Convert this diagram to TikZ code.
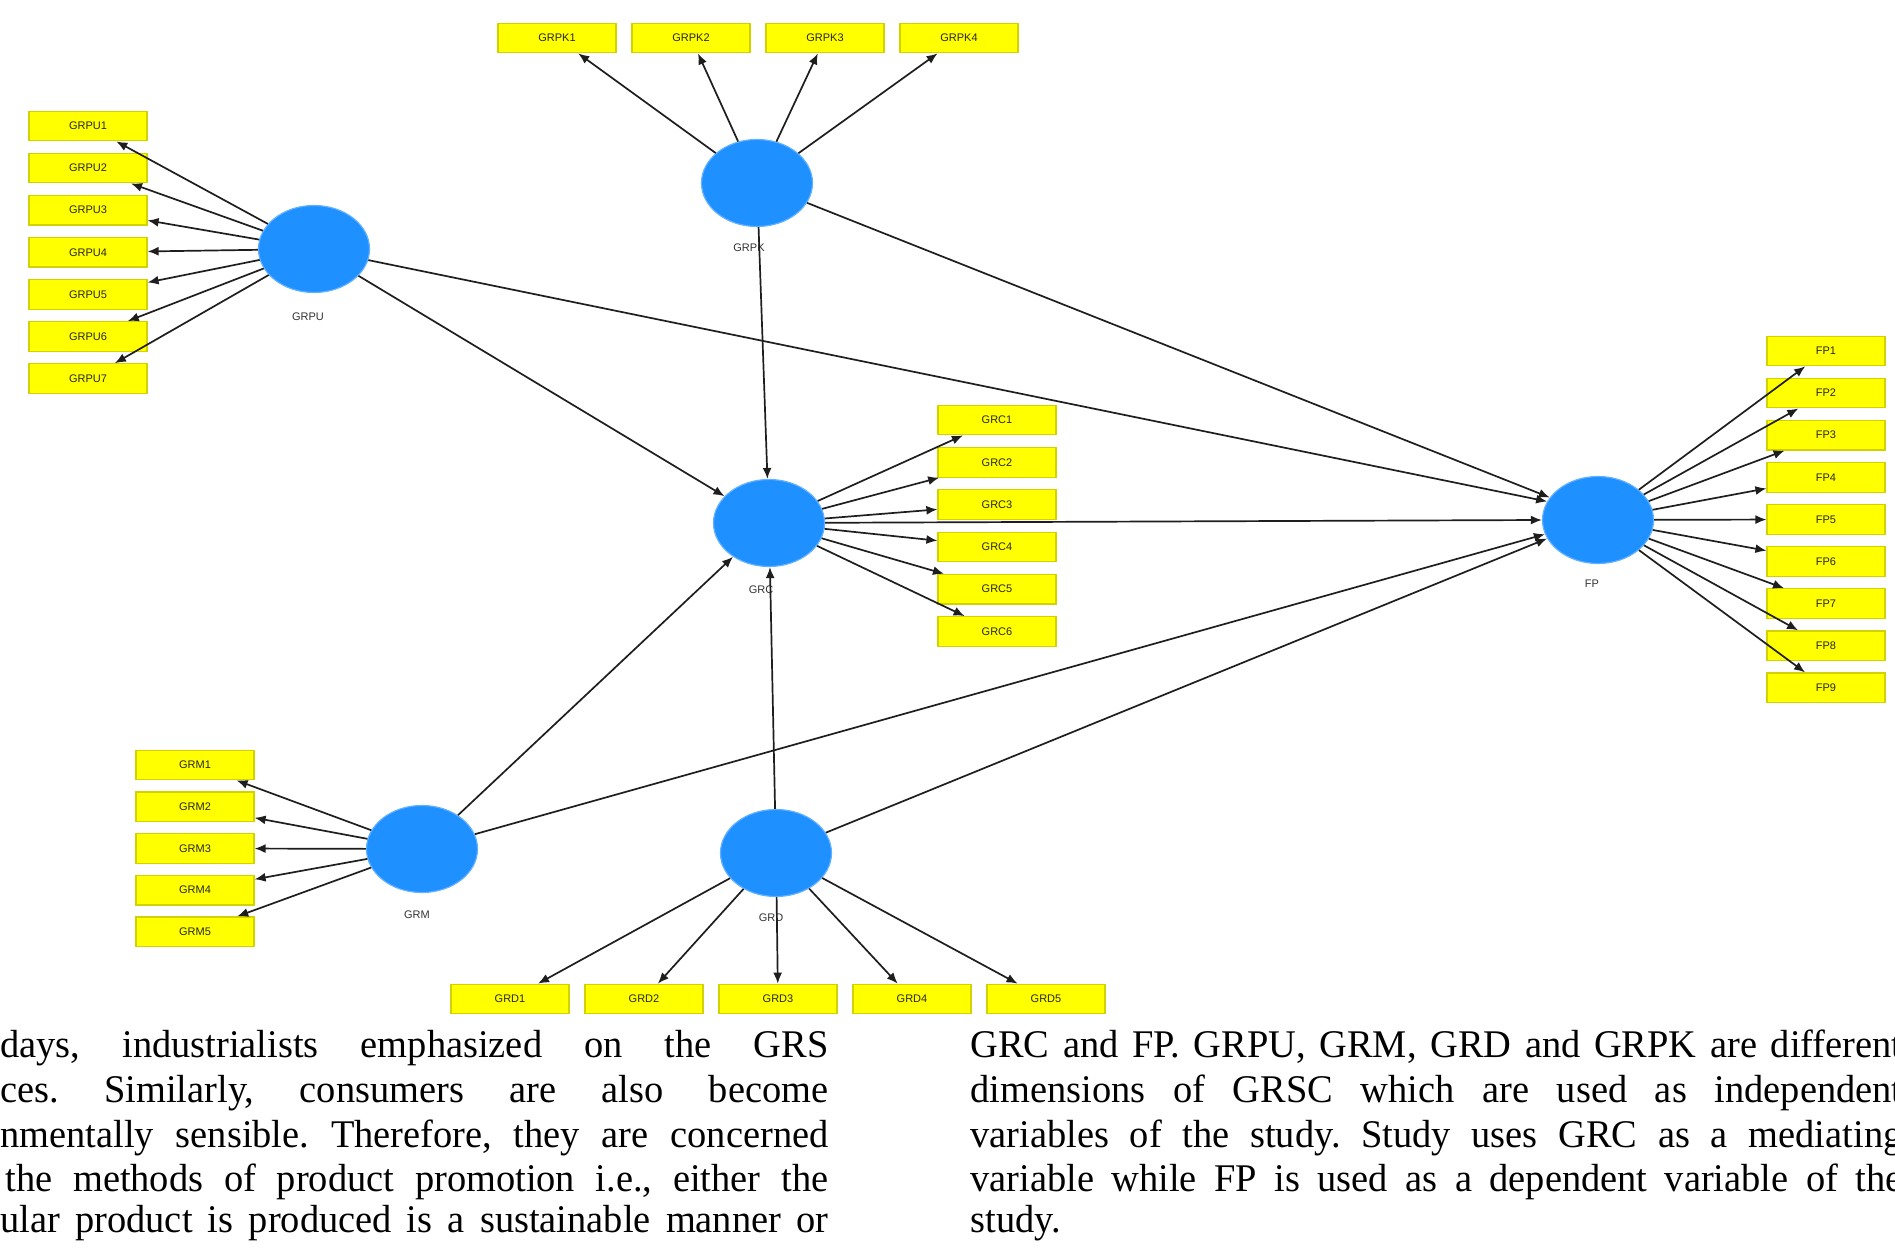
\documentclass[tikz,border=0pt]{standalone}
\usepackage{fontspec}
\setmainfont[FakeStretch=0.98]{Liberation Serif}
\newfontfamily\boxfont{Liberation Sans}
\usetikzlibrary{arrows.meta,shapes.geometric}
\definecolor{latblue}{RGB}{30,144,255}
\definecolor{indyellow}{RGB}{255,255,0}
\definecolor{indborder}{RGB}{210,210,0}
\definecolor{arrowc}{RGB}{30,30,30}
\frenchspacing
\begin{document}
\begin{tikzpicture}[x=0.5pt,y=-0.5pt,
  latent/.style={ellipse, fill=latblue, draw=latblue!70!white, line width=0.6pt, minimum width=55.5pt, minimum height=43.5pt, inner sep=0pt},
  ind/.style={rectangle, fill=indyellow, draw=indborder, line width=0.6pt, minimum width=59pt, minimum height=14.8pt, inner sep=0pt, font=\boxfont\fontsize{5.5}{6}\selectfont, text=black!85},
  latlabel/.style={inner sep=0pt, font=\boxfont\fontsize{5.5}{6}\selectfont, text=black!80},
  conn/.style={draw=arrowc, line width=0.85pt, -{Latex[length=5.5pt,width=4.5pt]}},
  bodytext/.style={anchor=base west, inner sep=0pt, font=\fontsize{19.6}{22}\selectfont}
]
\useasboundingbox (0,0) rectangle (1895,1251);
\clip (0,0) rectangle (1895,1251);
\fill[white] (0,0) rectangle (1895,1251);

% latent variables
\node[latent] (GRPK) at (757,183) {};
\node[latent] (GRPU) at (314,249) {};
\node[latent] (GRC) at (769,523) {};
\node[latent] (FP) at (1598,520) {};
\node[latent] (GRM) at (422,849) {};
\node[latent] (GRD) at (776,853) {};

% indicators
\foreach \i/\xx in {1/557,2/691,3/825,4/959}
  \node[ind] (GRPK\i) at (\xx,38) {GRPK\i};
\foreach \i [evaluate=\i as \yy using {126+42.1*(\i-1)}] in {1,...,7}
  \node[ind] (GRPU\i) at (88,\yy) {GRPU\i};
\foreach \i [evaluate=\i as \yy using {420+42.3*(\i-1)}] in {1,...,6}
  \node[ind] (GRC\i) at (997,\yy) {GRC\i};
\foreach \i [evaluate=\i as \yy using {351+42.1*(\i-1)}] in {1,...,9}
  \node[ind] (FP\i) at (1826,\yy) {FP\i};
\foreach \i [evaluate=\i as \yy using {765+41.7*(\i-1)}] in {1,...,5}
  \node[ind] (GRM\i) at (195,\yy) {GRM\i};
\foreach \i/\xx in {1/510,2/644,3/778,4/912,5/1046}
  \node[ind] (GRD\i) at (\xx,999) {GRD\i};

% latent labels
\node[latlabel] (GRPKl) at (749,248) {GRPK};
\node[latlabel] (GRPUl) at (308,317) {GRPU};
\node[latlabel] (GRCl) at (761,590) {GRC};
\node[latlabel] (FPl) at (1592,584) {FP};
\node[latlabel] (GRMl) at (417,915) {GRM};
\node[latlabel] (GRDl) at (771,918) {GRD};

% measurement arrows
\foreach \i in {1,...,4} \draw[conn] (GRPK) -- (GRPK\i);
\foreach \i in {1,...,7} \draw[conn] (GRPU) -- (GRPU\i);
\foreach \i in {1,...,6} \draw[conn] (GRC) -- (GRC\i);
\foreach \i in {1,...,9} \draw[conn] (FP) -- (FP\i);
\foreach \i in {1,...,5} \draw[conn] (GRM) -- (GRM\i);
\foreach \i in {1,...,5} \draw[conn] (GRD) -- (GRD\i);

% structural paths
\draw[conn] (GRPU) -- (GRC);
\draw[conn] (GRPK) -- (GRC);
\draw[conn] (GRM) -- (GRC);
\draw[conn] (GRD) -- (GRC);
\draw[conn] (GRPU) -- (FP.160);
\draw[conn] (GRPK) -- (FP.155);
\draw[conn] (GRC) -- (FP.180);
\draw[conn] (GRM) -- (FP.195);
\draw[conn] (GRD) -- (FP.200);

% body text
\node[bodytext] (L1) at (0,1057) {\makebox[414pt][s]{days, industrialists emphasized on the GRS}};
\node[bodytext] (L2) at (0,1102) {\makebox[414pt][s]{ces. Similarly, consumers are also become}};
\node[bodytext] (L3) at (0,1147) {\makebox[414pt][s]{nmentally sensible. Therefore, they are concerned}};
\node[bodytext] (L4) at (5,1191) {\makebox[411.5pt][s]{the methods of product promotion i.e., either the}};
\node[bodytext] (L5) at (0,1232) {\makebox[414pt][s]{ular product is produced is a sustainable manner or}};
\node[bodytext] (R1) at (970,1057) {\makebox[466pt][s]{GRC and FP. GRPU, GRM, GRD and GRPK are different}};
\node[bodytext] (R2) at (970,1102) {\makebox[466pt][s]{dimensions of GRSC which are used as independent}};
\node[bodytext] (R3) at (970,1147) {\makebox[466pt][s]{variables of the study. Study uses GRC as a mediating}};
\node[bodytext] (R4) at (970,1191) {\makebox[466pt][s]{variable while FP is used as a dependent variable of the}};
\node[bodytext] (R5) at (970,1232) {study.};
\end{tikzpicture}
\end{document}
